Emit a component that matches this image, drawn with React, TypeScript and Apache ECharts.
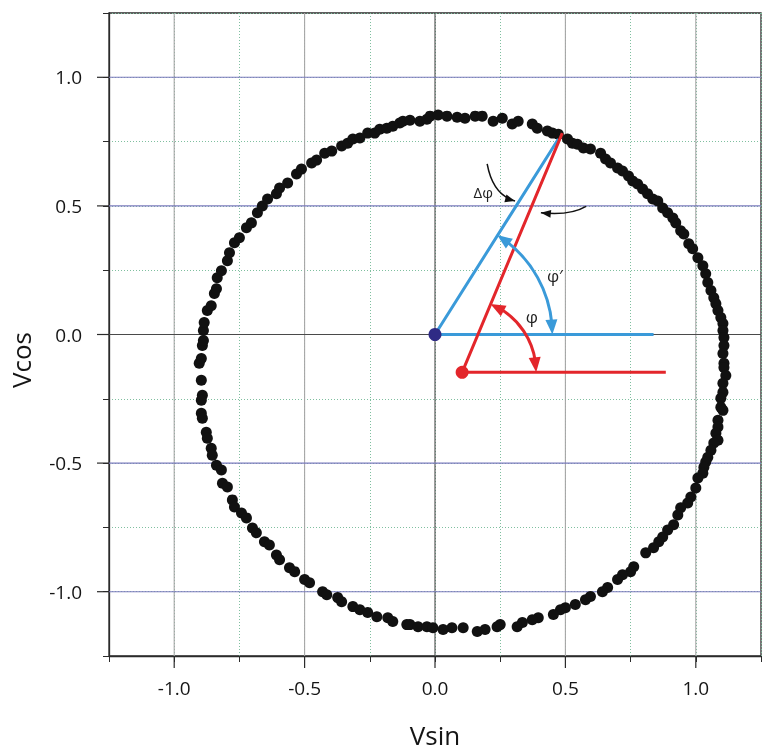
import React, { useEffect, useRef } from "react";
import * as echarts from "echarts";

const upperLeft: number[][] = [
  [-0.904, -0.112], [-0.896, -0.093], [-0.892, -0.043], [-0.888, -0.023], [-0.888, 0.016], [-0.885, 0.047],
  [-0.873, 0.093], [-0.858, 0.112], [-0.846, 0.159], [-0.838, 0.178], [-0.835, 0.221], [-0.819, 0.248],
  [-0.796, 0.287], [-0.788, 0.318], [-0.769, 0.357], [-0.75, 0.376], [-0.723, 0.415], [-0.704, 0.434],
  [-0.681, 0.473], [-0.662, 0.5], [-0.642, 0.527], [-0.608, 0.547], [-0.596, 0.57], [-0.565, 0.589],
  [-0.531, 0.624], [-0.512, 0.643], [-0.473, 0.667], [-0.454, 0.678], [-0.423, 0.705], [-0.396, 0.713],
  [-0.358, 0.733], [-0.335, 0.744], [-0.315, 0.76], [-0.288, 0.764], [-0.258, 0.783], [-0.231, 0.783],
  [-0.212, 0.798], [-0.185, 0.802], [-0.162, 0.81], [-0.135, 0.822], [-0.123, 0.829], [-0.096, 0.833],
  [-0.058, 0.829], [-0.031, 0.837], [-0.019, 0.849], [0.012, 0.853], [0.046, 0.849], [0.085, 0.845],
];
const upperRight: number[][] = [
  [0.115, 0.841], [0.154, 0.849], [0.181, 0.849], [0.223, 0.829], [0.258, 0.841], [0.296, 0.818],
  [0.319, 0.829], [0.373, 0.818], [0.392, 0.802], [0.431, 0.791], [0.45, 0.783], [0.473, 0.779],
  [0.508, 0.76], [0.527, 0.744], [0.546, 0.74], [0.569, 0.725], [0.596, 0.721], [0.635, 0.705],
  [0.654, 0.682], [0.673, 0.667], [0.7, 0.647], [0.719, 0.636], [0.742, 0.616], [0.758, 0.597],
  [0.777, 0.585], [0.796, 0.566], [0.815, 0.547], [0.835, 0.527], [0.854, 0.519], [0.873, 0.492],
  [0.892, 0.473], [0.912, 0.453], [0.923, 0.434], [0.942, 0.403], [0.954, 0.391], [0.973, 0.353],
  [0.988, 0.333], [1.008, 0.298], [1.027, 0.267], [1.038, 0.236], [1.046, 0.202], [1.058, 0.171],
  [1.069, 0.143], [1.077, 0.12], [1.085, 0.093], [1.096, 0.066], [1.104, 0.043], [1.104, 0.016],
  [1.108, -0.012], [1.108, -0.043], [1.104, -0.074], [1.108, -0.112],
];
const lowerRight: number[][] = [
  [1.108, -0.128], [1.115, -0.159], [1.104, -0.19], [1.104, -0.225], [1.096, -0.248], [1.096, -0.283],
  [1.104, -0.295], [1.085, -0.333], [1.085, -0.36], [1.077, -0.384], [1.085, -0.411], [1.069, -0.422],
  [1.058, -0.45], [1.046, -0.477], [1.038, -0.496], [1.031, -0.516], [1.027, -0.539], [1.008, -0.558],
  [1.0, -0.597], [0.981, -0.632], [0.969, -0.655], [0.942, -0.674], [0.931, -0.702], [0.915, -0.74],
  [0.892, -0.76], [0.873, -0.787], [0.858, -0.806], [0.838, -0.829], [0.808, -0.849], [0.762, -0.903],
  [0.75, -0.922], [0.719, -0.934], [0.7, -0.953], [0.662, -0.984], [0.642, -1.0], [0.596, -1.019],
  [0.577, -1.031], [0.538, -1.05], [0.5, -1.062], [0.481, -1.07], [0.454, -1.089], [0.396, -1.101],
  [0.373, -1.109], [0.335, -1.12], [0.315, -1.136], [0.25, -1.128], [0.238, -1.136], [0.192, -1.147],
  [0.162, -1.155], [0.108, -1.14], [0.065, -1.14],
];
const lowerLeft: number[][] = [
  [-0.896, -0.178], [-0.892, -0.236], [-0.896, -0.256], [-0.896, -0.306], [-0.892, -0.326], [-0.877, -0.38],
  [-0.873, -0.403], [-0.858, -0.442], [-0.854, -0.469], [-0.838, -0.508], [-0.819, -0.527], [-0.815, -0.578],
  [-0.796, -0.593], [-0.777, -0.643], [-0.769, -0.671], [-0.742, -0.694], [-0.723, -0.713], [-0.7, -0.752],
  [-0.685, -0.771], [-0.654, -0.806], [-0.635, -0.818], [-0.608, -0.857], [-0.596, -0.876], [-0.558, -0.907],
  [-0.538, -0.922], [-0.5, -0.953], [-0.481, -0.965], [-0.431, -1.0], [-0.415, -1.012], [-0.373, -1.023],
  [-0.358, -1.039], [-0.315, -1.058], [-0.288, -1.07], [-0.258, -1.081], [-0.223, -1.097], [-0.181, -1.101],
  [-0.162, -1.116], [-0.108, -1.128], [-0.096, -1.128], [-0.065, -1.136], [-0.031, -1.136], [-0.008, -1.14],
  [0.031, -1.147],
];

const majorTicks = [-1, -0.5, 0, 0.5, 1];

// phasor lines: tip, origin, end of horizontal reference
const blueLine = [[0.473, 0.76], [0, 0], [0.838, 0]];
const redLine = [[0.488, 0.783], [0.104, -0.147], [0.885, -0.147]];
const origins = [[0, 0], [0.104, -0.147]];

// angle arcs (φ′ blue around origin, φ red around the shifted origin)
const arcRadius = [0.45, 0.284];
const arcDegrees = [58, 67.5];

// Δφ arrows: start, control, end
const deltaArrows = [
  [[0.2, 0.663], [0.222, 0.542], [0.307, 0.519]],
  [[0.579, 0.498], [0.518, 0.461], [0.406, 0.473]],
];

const labels = ["Δφ", "φ′", "φ"];
const labelPos = [[0.185, 0.555], [0.46, 0.231], [0.371, 0.069]];

const BLUE = "#3a9ad9";
const RED = "#e3262b";
const NAVY = "#2f2b85";
const INK = "#2b2b2b";
const FONT = "'Open Sans', 'DejaVu Sans', sans-serif";

const arrowHead = (tx: number, ty: number, dx: number, dy: number, len: number, half: number, color: string) => {
  const m = Math.hypot(dx, dy) || 1;
  const ux = dx / m, uy = dy / m;
  const bx = tx - ux * len, by = ty - uy * len;
  return {
    type: "polygon",
    shape: { points: [[tx, ty], [bx - uy * half, by + ux * half], [bx + uy * half, by - ux * half]] },
    style: { fill: color },
  };
};

const App: React.FC = () => {
  const chartRef = useRef<HTMLDivElement>(null);

  useEffect(() => {
    if (!chartRef.current) return;
    const chart = echarts.init(chartRef.current, null, { renderer: "svg" });

    const axisBase = {
      type: "value",
      min: -1.25,
      max: 1.25,
    };

    const option = {
      animation: false,
      grid: {
        left: 109, top: 13, width: 652, height: 643,
        show: true, borderColor: INK, borderWidth: 1.3,
        outerBoundsMode: "none",
      },
      xAxis: [
        {
          ...axisBase,
          interval: 0.25,
          position: "bottom",
          axisLine: { onZero: false, lineStyle: { color: INK, width: 1.3 } },
          axisTick: { show: true, length: 6, lineStyle: { color: INK } },
          axisLabel: { show: false },
          splitLine: { show: true, lineStyle: { color: "#7fbf9f", type: [1, 2], width: 1 } },
        },
        {
          ...axisBase,
          position: "bottom",
          axisLine: { show: false, onZero: false },
          axisTick: { show: false },
          axisLabel: {
            show: true, customValues: majorTicks, margin: 22, fontSize: 19, color: "#151515", fontFamily: FONT,
            formatter: (v: number) => v.toFixed(1),
          },
          splitLine: { show: false },
        },
      ],
      yAxis: [
        {
          ...axisBase,
          interval: 0.25,
          position: "left",
          axisLine: { onZero: false, lineStyle: { color: INK, width: 1.3 } },
          axisTick: { show: true, length: 6, lineStyle: { color: INK } },
          axisLabel: { show: false },
          splitLine: { show: true, lineStyle: { color: "#7fbf9f", type: [1, 2], width: 1 } },
        },
        {
          ...axisBase,
          position: "left",
          axisLine: { show: false, onZero: false },
          axisTick: { show: false },
          axisLabel: {
            show: true, customValues: majorTicks, margin: 27, fontSize: 19, color: "#151515", fontFamily: FONT,
            formatter: (v: number) => v.toFixed(1),
          },
          splitLine: { show: false },
        },
      ],
      graphic: [
        {
          type: "text", x: 435, y: 735, silent: true,
          style: { text: "Vsin", fill: "#151515", fontSize: 26, fontFamily: FONT, align: "center", verticalAlign: "middle" },
        },
        {
          type: "text", x: 21, y: 360, rotation: Math.PI / 2, silent: true,
          style: { text: "Vcos", fill: "#151515", fontSize: 26, fontFamily: FONT, align: "center", verticalAlign: "middle" },
        },
      ],
      series: [
        {
          // solid grid lines at the labelled values (vertical then horizontal), with the long ticks
          name: "majorGrid",
          type: "custom",
          z: 1,
          silent: true,
          data: [...majorTicks.map(v => [v, 0]), ...majorTicks.map(v => [v, 1])],
          renderItem: (params: any, api: any) => {
            const v = api.value(0);
            const horizontal = api.value(1) === 1;
            const a = horizontal ? api.coord([-1.25, v]) : api.coord([v, -1.25]);
            const b = horizontal ? api.coord([1.25, v]) : api.coord([v, 1.25]);
            const color = v === 0 ? "#4a4a4a" : horizontal ? "#7a7abd" : "#a6a6a6";
            const t = horizontal ? [a[0] - 12, a[1]] : [a[0], a[1] + 12];
            return {
              type: "group",
              children: [
                {
                  type: "line",
                  shape: { x1: a[0], y1: a[1], x2: b[0], y2: b[1] },
                  style: { stroke: color, lineWidth: 1.1 },
                },
                {
                  type: "line",
                  shape: { x1: a[0], y1: a[1], x2: t[0], y2: t[1] },
                  style: { stroke: INK, lineWidth: 1.2 },
                },
              ],
            };
          },
        },
        {
          name: "ring",
          type: "scatter",
          z: 2,
          silent: true,
          symbolSize: 11,
          itemStyle: { color: "#111", opacity: 1 },
          data: [...upperLeft, ...upperRight, ...lowerRight, ...lowerLeft],
        },
        {
          name: "phasor",
          type: "line",
          z: 4,
          silent: true,
          showSymbol: false,
          data: blueLine,
          lineStyle: { color: BLUE, width: 3 },
        },
        {
          name: "shifted",
          type: "line",
          z: 4,
          silent: true,
          showSymbol: false,
          data: redLine,
          lineStyle: { color: RED, width: 3 },
        },
        {
          name: "arcs",
          type: "custom",
          z: 5,
          silent: true,
          data: [[0, 0], [0, 0]],
          renderItem: (params: any, api: any) => {
            const i = params.dataIndex;
            const color = i === 0 ? BLUE : RED;
            const c = api.coord(origins[i]);
            const r = api.size([arcRadius[i], 0])[0];
            const a = (arcDegrees[i] * Math.PI) / 180;
            const len = 15, half = 6;
            const trim = (len * 0.7) / r;
            const back = len / r;
            const p = (t: number) => [c[0] + r * Math.cos(t), c[1] + r * Math.sin(t)];
            const s = p(-a), sb = p(-a + back);
            const e = p(0), eb = p(-back);
            return {
              type: "group",
              children: [
                {
                  type: "arc",
                  shape: { cx: c[0], cy: c[1], r, startAngle: -a + trim, endAngle: -trim, clockwise: true },
                  style: { stroke: color, lineWidth: 3, fill: "none" },
                },
                arrowHead(s[0], s[1], s[0] - sb[0], s[1] - sb[1], len, half, color),
                arrowHead(e[0], e[1], e[0] - eb[0], e[1] - eb[1], len, half, color),
              ],
            };
          },
        },
        {
          name: "delta",
          type: "custom",
          z: 5,
          silent: true,
          data: [[0, 0], [0, 0]],
          renderItem: (params: any, api: any) => {
            const pts = deltaArrows[params.dataIndex].map(pt => api.coord(pt));
            const [s, cp, e] = pts;
            return {
              type: "group",
              children: [
                {
                  type: "bezierCurve",
                  shape: { x1: s[0], y1: s[1], cpx1: cp[0], cpy1: cp[1], x2: e[0], y2: e[1] },
                  style: { stroke: "#111", lineWidth: 1.5, fill: "none" },
                },
                arrowHead(e[0], e[1], e[0] - cp[0], e[1] - cp[1], 10, 4, "#111"),
              ],
            };
          },
        },
        {
          name: "labels",
          type: "custom",
          z: 6,
          silent: true,
          data: [[0, 0], [0, 0], [0, 0]],
          renderItem: (params: any, api: any) => {
            const i = params.dataIndex;
            const pt = api.coord(labelPos[i]);
            return {
              type: "text",
              x: pt[0],
              y: pt[1],
              style: {
                text: labels[i], fill: "#222", fontSize: i === 0 ? 15 : 17, fontFamily: FONT,
                align: "center", verticalAlign: "middle",
              },
            };
          },
        },
        {
          name: "origins",
          type: "scatter",
          z: 7,
          silent: true,
          symbolSize: 13,
          itemStyle: { opacity: 1 },
          data: [
            { value: origins[0], itemStyle: { color: NAVY, opacity: 1 } },
            { value: origins[1], itemStyle: { color: RED, opacity: 1 } },
          ],
        },
      ],
    };

    chart.setOption(option as any);

    return () => {
      chart.dispose();
    };
  }, []);

  return <div ref={chartRef} style={{ position: "fixed", left: 0, top: 0, width: 768, height: 756 }} />;
};

export default App;
